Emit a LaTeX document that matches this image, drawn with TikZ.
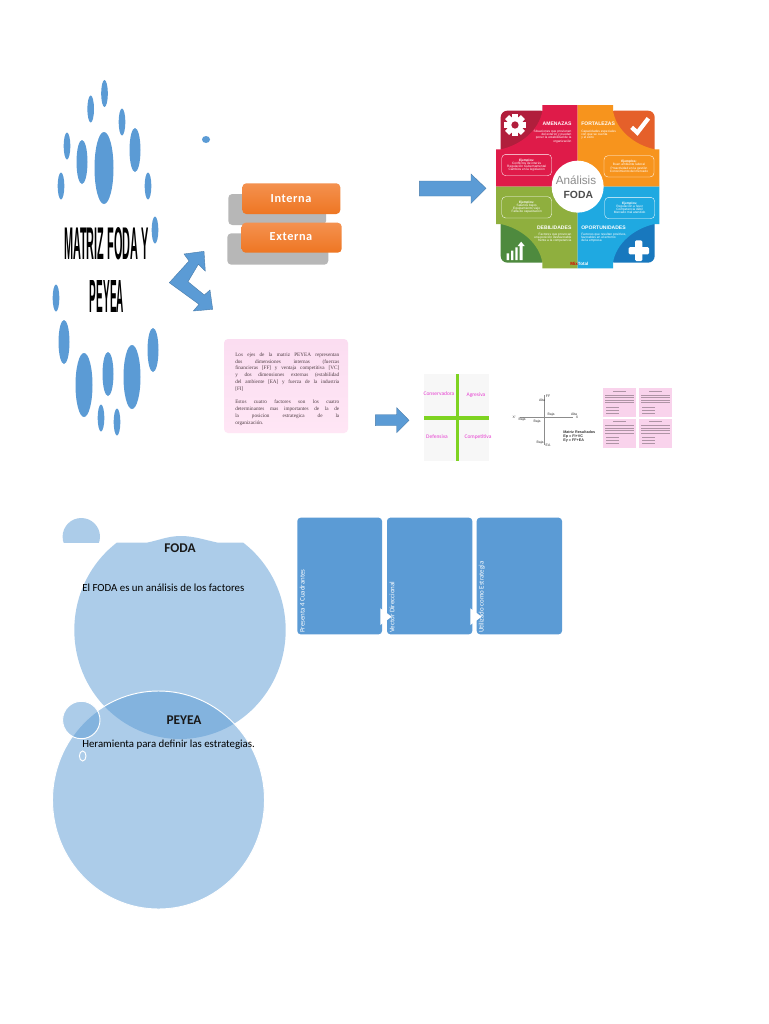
\documentclass[tikz,border=0pt]{standalone}
\usepackage{fontspec}
\setmainfont{Carlito}
\newfontfamily\libsans{Liberation Sans}
\newfontfamily\libserif{Liberation Serif}
\newfontfamily\spaced[LetterSpace=5]{Carlito}
\newcommand{\fsz}[1]{\fontsize{#1}{#1}\selectfont}
\newcommand{\spread}[1]{\makebox[78pt][s]{#1}}
\definecolor{blu}{HTML}{5B9BD5}
\definecolor{circ}{HTML}{5B9BD5}
\definecolor{grayb}{HTML}{B7B7B7}
\definecolor{orangea}{HTML}{F4914F}
\definecolor{orangeb}{HTML}{EE7623}
\definecolor{pinka}{HTML}{FBDDF1}
\definecolor{pinkb}{HTML}{FFE6F5}
\definecolor{redb}{HTML}{DF1B49}
\definecolor{redd}{HTML}{B11E3C}
\definecolor{orb}{HTML}{F7941D}
\definecolor{ord}{HTML}{E5602A}
\definecolor{grb}{HTML}{8FAF3E}
\definecolor{grd}{HTML}{4E8A3E}
\definecolor{blb}{HTML}{1FA9E1}
\definecolor{bld}{HTML}{1878BE}
\definecolor{limeg}{HTML}{7ED321}
\definecolor{magt}{HTML}{E63FD0}
\definecolor{cardp}{HTML}{F9D3EC}
\tikzset{
  blob/.style={fill=blu},
  blockarrow/.style={fill=blu,draw=blu!80!black,line width=.3pt},
  graybox/.style={fill=grayb,rounded corners=3pt},
  orangebox/.style={top color=orangea,bottom color=orangeb,rounded corners=3pt},
  orangetext/.style={text=white,font=\spaced\bfseries\fsz{9.2}},
  procbox/.style={fill=blu,rounded corners=2.5pt},
  proctext/.style={text=white,font=\fsz{5.2},rotate=90,anchor=west,inner sep=0pt},
  bigcirc/.style={fill=circ,fill opacity=.5},
  circtitle/.style={font=\bfseries\fsz{10},text=black!90},
  circtext/.style={font=\fsz{8.15},anchor=west,inner sep=0pt,text=black},
  qtitle/.style={text=white,font=\libsans\bfseries\fsz{3.8},inner sep=0pt},
  qsmall/.style={text=white,font=\libsans\fsz{2.4},inner sep=0pt,align=center},
  qbox/.style={draw=white,line width=.25pt,rounded corners=3pt},
  magtext/.style={text=magt,font=\fsz{4.1},inner sep=0pt},
  tinyax/.style={font=\libsans\fsz{2.6},inner sep=0pt,text=black!80},
  cardline/.style={draw=black!30!cardp,line width=.35pt},
}
\begin{document}
\begin{tikzpicture}[x=0.75pt,y=-0.75pt]
\useasboundingbox (0,0) rectangle (768,1024);
\fill[white] (0,0) rectangle (768,1024);
% ellipses
\foreach \ex/\ey/\ea/\eb in {104.5/93.5/3.3/13.5,90.7/109/3.3/13.5,122/122/3.3/13.5,135/150/5.5/22,104/168/9.5/36,82/162/5.5/22,67/146/3.3/13.5,61/186/3.3/13.5,148/186/3.3/13.5,155/230/3.3/13.5,206/139.5/4/3.5,56/298/3.3/13.5,64/342/5.5/22,153/350/5.5/22,84/385/8.5/32,108/374/5.5/22,132/377/8.5/32,101/418/3.3/13.5,117/422/3.3/13.5}
  \fill[blob] (\ex,\ey) ellipse [x radius=\ea,y radius=\eb];
% title
\node[inner sep=0pt] (t1) at (106.5,244) {\resizebox{63.5pt}{24pt}{\libsans\bfseries MATRIZ FODA Y}};
\node[inner sep=0pt] (t2) at (107,296) {\resizebox{25.5pt}{24pt}{\libsans\bfseries PEYEA}};
% bent double arrow
\fill[blockarrow] (169.3,282.7) -- (189,261) -- (184,254) -- (204,251.3) -- (205.3,271) -- (198.3,264.3) -- (188,281.7) -- (204.3,295) -- (210,290) -- (212.7,309.3) -- (193.3,311) -- (199,304.3) -- cycle;
% orange stack
\fill[graybox] (228.3,194) rectangle (326,225);
\fill[graybox] (227.3,233.3) rectangle (328.3,264.7);
\shade[orangebox] (242.3,183.3) rectangle (340.3,214);
\shade[orangebox] (241.7,222.7) rectangle (341.7,252.7);
\node[orangetext] (interna) at (291,198.3) {Interna};
\node[orangetext] (externa) at (291,236.7) {Externa};
% block arrows
\fill[blockarrow] (419.3,181) -- (471,181) -- (471,174) -- (486,188.3) -- (471,203.3) -- (471,196) -- (419.3,196) -- cycle;
\fill[blockarrow] (375.3,414.7) -- (396.7,414.7) -- (396.7,407.7) -- (409,420.3) -- (396.7,432.7) -- (396.7,425.7) -- (375.3,425.7) -- cycle;
% FODA infographic
\begin{scope}[shift={(480,90)},x=0.25pt,y=-0.25pt]
  \foreach \sx/\sy/\cb/\cd in {1/1/redb/redd,-1/1/orb/ord,1/-1/grb/grd,-1/-1/blb/bld}{
    \begin{scope}[shift={(293,290)},xscale=\sx,yscale=\sy]
      \fill[\cd,rounded corners=5pt] (-231,-228) rectangle (-90,-90);
      \fill[\cb] (-106,-245) -- (0,-245) -- (0,0) -- (-245,0) -- (-245,-112) -- (-231,-112) .. controls (-170,-125) and (-115,-170) .. (-106,-228) -- cycle;
    \end{scope}
  }
  \fill[white] (293,290) circle (78);
  \node[text=black!45,font=\libsans\fsz{8.8},inner sep=0pt] (an) at (288,272) {Análisis};
  \node[text=black!70,font=\libsans\bfseries\fsz{7.8},inner sep=0pt] (fo) at (295,314) {FODA};
  \node[qtitle,anchor=east] (am) at (275,101) {AMENAZAS};
  \node[qtitle,anchor=west] (fz) at (303,101) {FORTALEZAS};
  \node[qtitle,anchor=east] (db) at (275,412) {DEBILIDADES};
  \node[qtitle,anchor=west] (op) at (303,412) {OPORTUNIDADES};
  \node[qsmall,anchor=north east,align=right] (am2) at (275,120) {Situaciones que provienen\\del exterior y pueden\\poner la estabilidad de la\\organización};
  \node[qsmall,anchor=north west,align=left] (fz2) at (303,120) {Capacidades especiales\\con que se cuenta\\y el éxito};
  \node[qsmall,anchor=north east,align=right] (db2) at (275,428) {Factores que provocan\\una posición desfavorable\\frente a la competencia};
  \node[qsmall,anchor=north west,align=left] (op2) at (303,428) {Factores que resultan positivos,\\favorables en el entorno\\de la empresa};
  \draw[qbox] (65,193) rectangle (215,257);
  \draw[qbox] (372,197) rectangle (522,261);
  \draw[qbox] (65,320) rectangle (215,384);
  \draw[qbox] (374,322) rectangle (524,386);
  \node[qsmall] (ex1) at (140,225) {\textbf{Ejemplos:}\\Conflictos de interés\\Regulación Gubernamental\\Cambios en la legislación};
  \node[qsmall] (ex2) at (447,229) {\textbf{Ejemplos:}\\Buen ambiente laboral\\Proactividad en la gestión\\Conocimiento del mercado};
  \node[qsmall] (ex3) at (140,352) {\textbf{Ejemplos:}\\Salarios bajos\\Equipamiento viejo\\Falta de capacitación};
  \node[qsmall] (ex4) at (449,354) {\textbf{Ejemplos:}\\Regulación a favor\\Competencia débil\\Mercado mal atendido};
  % gear
  \foreach \ang in {0,45,...,315}
    \fill[white,rotate around={\ang:(105,105)}] (97,72) rectangle (113,138);
  \fill[white] (105,105) circle (25);
  \fill[redd] (105,105) circle (11);
  % check
  \draw[white,line width=3.2pt] (455,112) -- (472,128) -- (505,85);
  % bars
  \fill[white] (80,490) rectangle (87,510) (93,482) rectangle (100,510) (106,472) rectangle (113,510) (119,465) rectangle (128,510);
  \fill[white] (123.5,455) -- (134,468) -- (113,468) -- cycle;
  % plus
  \fill[white,rounded corners=1pt] (465,451) rectangle (487,513);
  \fill[white,rounded corners=1pt] (446,471) rectangle (507,493);
  \node[font=\libsans\bfseries\fsz{3.4},inner sep=0pt] (mx) at (298,523) {\textcolor{red!85!black}{Mix}\textcolor{white}{Total}};
\end{scope}
% pink text box
\shade[rounded corners=3pt,top color=pinka,bottom color=pinkb] (224,339) rectangle (348,433);
\node[anchor=north west,inner sep=0pt,align=left,text=black!80!magenta,font=\libserif\fontsize{3.9}{5.08}\selectfont] (peyea) at (235,352.5) {%
\spread{Los ejes de la matriz PEYEA representan}\\
\spread{dos dimensiones internas (fuerzas}\\
\spread{financieras [FF] y ventaja competitiva [VC]}\\
\spread{y dos dimensiones externas (estabilidad}\\
\spread{del ambiente [EA] y fuerza de la industria}\\
{[FI]}\\[5.08pt]
\spread{Estos cuatro factores son los cuatro}\\
\spread{determinantes mas importantes de la de}\\
\spread{la posicion estrategica de la}\\
organización.};
% quadrant picture
\fill[black!3] (424,374) rectangle (489,461);
\fill[limeg] (456.3,374) rectangle (459.3,461);
\fill[limeg] (424,415.5) rectangle (489,420);
\node[magtext] (q1) at (439,394) {Conservadora};
\node[magtext] (q2) at (476,395) {Agresiva};
\node[magtext] (q3) at (437,437) {Defensiva};
\node[magtext] (q4) at (478,437) {Competitiva};
% PEYEA axes
\draw[black!45,line width=1pt] (544.7,395) -- (544.7,445);
\draw[black!45,line width=1pt] (520,417.7) -- (573,417.7);
\node[tinyax] (a1) at (548,396) {FF};
\node[tinyax] (a2) at (542,400) {Alta};
\node[tinyax] (a3) at (574,414.5) {Alta};
\node[tinyax] (a4) at (577,417.7) {X};
\node[tinyax] (a5) at (514,417.7) {X'};
\node[tinyax] (a6) at (522,420) {Baja};
\node[tinyax] (a7) at (537,422) {Baja};
\node[tinyax] (a8) at (551,415) {Baja};
\node[tinyax] (a9) at (540,443) {Baja};
\node[tinyax] (a10) at (548,445) {EA};
\node[tinyax,anchor=north west,align=left,font=\libsans\bfseries\fsz{2.8}] (a11) at (563,431) {Matriz Resultados\\Ep = FI+VC\\Ey = FF+EA};
% pink cards
\foreach \cx/\cy in {603.3/388,639/388,603.3/418.5,639/418.5}{
  \fill[cardp] (\cx,\cy) rectangle ++(33,29);
  \draw[cardline] (\cx+10,\cy+3) -- ++(13,0);
  \foreach \dy in {7,9.5,12,14.5}
    \draw[cardline] (\cx+2,\cy+\dy) -- ++(29,0);
  \foreach \dy in {19,22,25}
    \draw[cardline] (\cx+3,\cy+\dy) -- ++(13,0);
}
% FODA / PEYEA circles
\begin{scope}
  \clip (50,500) rectangle (120,542.7);
  \fill[bigcirc] (81.3,536.7) circle (18.7);
\end{scope}
\begin{scope}
  \clip (50,542.7) -- (146.7,542.7) .. controls (160,540) and (168,536) .. (181,536) .. controls (194,536) and (205,540) .. (218,542.7) -- (295,542.7) -- (295,745) -- (50,745) -- cycle;
  \fill[bigcirc] (180,630) ellipse [x radius=105.7,y radius=109];
\end{scope}
\fill[bigcirc] (158.5,800) ellipse [x radius=106,y radius=109];
\draw[white,line width=.7pt] (158.5,800) ellipse [x radius=106,y radius=109];
\fill[bigcirc] (81.3,720) circle (18.7);
\draw[white,line width=.7pt] (81.3,720) circle (18.7);
\draw[white,line width=.7pt] (82.7,756) ellipse [x radius=3.3,y radius=5];
\node[circtitle] (foda) at (180,548) {FODA};
\node[circtext] (fodat) at (82,588) {El FODA es un análisis de los factores};
\node[circtitle] (peyeat) at (184,720) {PEYEA};
\node[circtext] (peyeatx) at (82,745) {Heramienta para definir las estrategias.};
% process
\fill[procbox] (297.3,517.7) rectangle (382,634.3);
\fill[procbox] (387,517.7) rectangle (472.3,634.3);
\fill[procbox] (476.7,517.7) rectangle (562,634.3);
\fill[white] (380.3,608.3) -- (391.7,616.7) -- (380.3,625) -- cycle;
\fill[white] (470.3,608.3) -- (481.7,616.7) -- (470.3,625) -- cycle;
\node[proctext] (p1) at (302.3,633) {Presenta 4 Cuadrantes};
\node[proctext] (p2) at (392,633) {Vector Direccional};
\node[proctext] (p3) at (481.7,633) {Utilizado como Estrategia};
\end{tikzpicture}
\end{document}
